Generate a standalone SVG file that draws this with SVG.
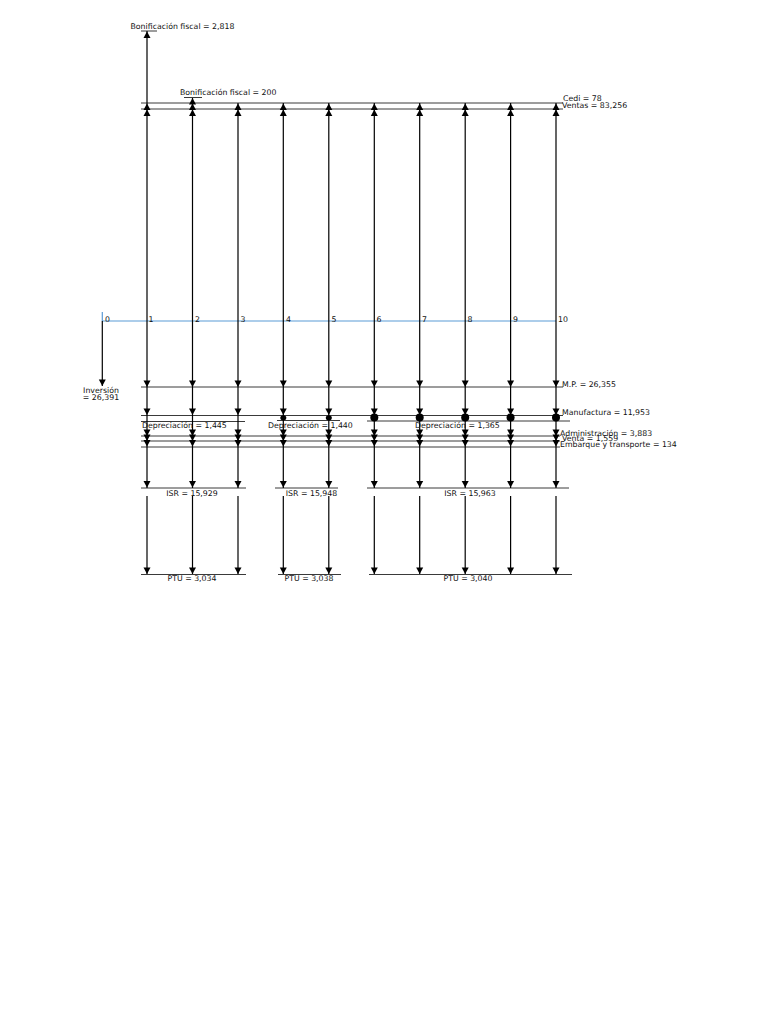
<svg xmlns="http://www.w3.org/2000/svg" xmlns:xlink="http://www.w3.org/1999/xlink" width="768" height="1024" viewBox="0 0 768 1024">
<style>
text{font-family:"DejaVu Sans","Liberation Sans",sans-serif;font-size:7.8px;fill:#111}
.m{text-anchor:middle}
.v{stroke:#000;stroke-width:1.2;fill:none}
.h{stroke:#3a3a3a;stroke-width:1;fill:none}
.ax{stroke:#5b9bd5;stroke-width:1.2;fill:none}
</style>
<defs>
<path id="dn" d="M-3.5,-6.5 L3.5,-6.5 L0,0 Z" fill="#000"/>
<path id="up" d="M-3.5,6.5 L3.5,6.5 L0,0 Z" fill="#000"/>
<g id="col">
<use xlink:href="#up" y="103.5"/>
<use xlink:href="#up" y="109.5"/>
<use xlink:href="#dn" y="387"/>
<use xlink:href="#dn" y="415"/>
<use xlink:href="#dn" y="436"/>
<use xlink:href="#dn" y="441"/>
<use xlink:href="#dn" y="446.5"/>
<use xlink:href="#dn" y="487.5"/>
<path class="v" d="M0,496 V574"/>
<use xlink:href="#dn" y="574"/>
</g>
</defs>
<rect width="768" height="1024" fill="#fff"/>

<g id="axis">
<path class="ax" d="M102,321 H556 M102.3,312 V321"/>
<text x="105" y="321.5">0</text>
<text x="148.5" y="321.5">1</text>
<text x="195" y="321.5">2</text>
<text x="240.5" y="321.5">3</text>
<text x="286" y="321.5">4</text>
<text x="331.5" y="321.5">5</text>
<text x="376.5" y="321.5">6</text>
<text x="422" y="321.5">7</text>
<text x="467.5" y="321.5">8</text>
<text x="513" y="321.5">9</text>
<text x="558" y="321.5">10</text>
</g>

<g id="lines">
<path class="h" d="M141,31 H157 M184,97.5 H202 M141,103 H563 M141,109 H563 M141,387 H563 M141,415.5 H563 M141,421.5 H245 M277,420.5 H340 M367,421 H570 M141,436 H560 M141,441 H560 M141,447 H560 M141,488 H246 M275,488 H338 M367,488 H569 M141,574.5 H246 M278,574.5 H341 M369,574.5 H572"/>
</g>

<g id="connectors">
<path class="v" d="M147,31 V488 M192.5,98 V488 M238,103 V488 M283.3,103 V488 M328.8,103 V488 M374.3,103 V488 M419.7,103 V488 M465.2,103 V488 M510.6,103 V488 M556,103 V488"/>
<path class="v" d="M102.3,321 V386"/>
<use xlink:href="#dn" x="102.3" y="386"/>
<use xlink:href="#up" x="147" y="31.5"/>
<use xlink:href="#up" x="192.5" y="98"/>
<use xlink:href="#col" x="147"/>
<use xlink:href="#col" x="192.5"/>
<use xlink:href="#col" x="238"/>
<use xlink:href="#col" x="283.3"/>
<use xlink:href="#col" x="328.8"/>
<use xlink:href="#col" x="374.3"/>
<use xlink:href="#col" x="419.7"/>
<use xlink:href="#col" x="465.2"/>
<use xlink:href="#col" x="510.6"/>
<use xlink:href="#col" x="556"/>
<g fill="#000">
<ellipse cx="283.3" cy="417.8" rx="3" ry="2.6"/>
<ellipse cx="328.8" cy="417.8" rx="3" ry="2.6"/>
<circle cx="374.3" cy="417.5" r="4"/>
<circle cx="419.7" cy="417.5" r="4"/>
<circle cx="465.2" cy="417.5" r="4"/>
<circle cx="510.6" cy="417.5" r="4"/>
<circle cx="556" cy="417.5" r="4"/>
</g>
</g>

<g id="labels">
<text x="130.5" y="29">Bonificación fiscal = 2,818</text>
<text x="180" y="94.5">Bonificación fiscal = 200</text>
<text x="563" y="101">Cedi = 78</text>
<text x="562" y="108">Ventas = 83,256</text>
<text class="m" x="101" y="392.5">Inversión</text>
<text class="m" x="101" y="399.5">= 26,391</text>
<text x="562" y="387">M.P. = 26,355</text>
<text x="562" y="415">Manufactura = 11,953</text>
<text x="142" y="428.3">Depreciación = 1,445</text>
<text x="268" y="427.5">Depreciación = 1,440</text>
<text x="415" y="427.8">Depreciación = 1,365</text>
<text x="560" y="435.5">Administración = 3,883</text>
<text x="562" y="441">Venta = 1,559</text>
<text x="560" y="447">Embarque y transporte = 134</text>
<text class="m" x="192" y="495.5">ISR = 15,929</text>
<text class="m" x="311.5" y="495.5">ISR = 15,948</text>
<text class="m" x="470" y="495.5">ISR = 15,963</text>
<text class="m" x="192" y="581">PTU = 3,034</text>
<text class="m" x="309" y="581">PTU = 3,038</text>
<text class="m" x="468" y="581">PTU = 3,040</text>
</g>
</svg>
